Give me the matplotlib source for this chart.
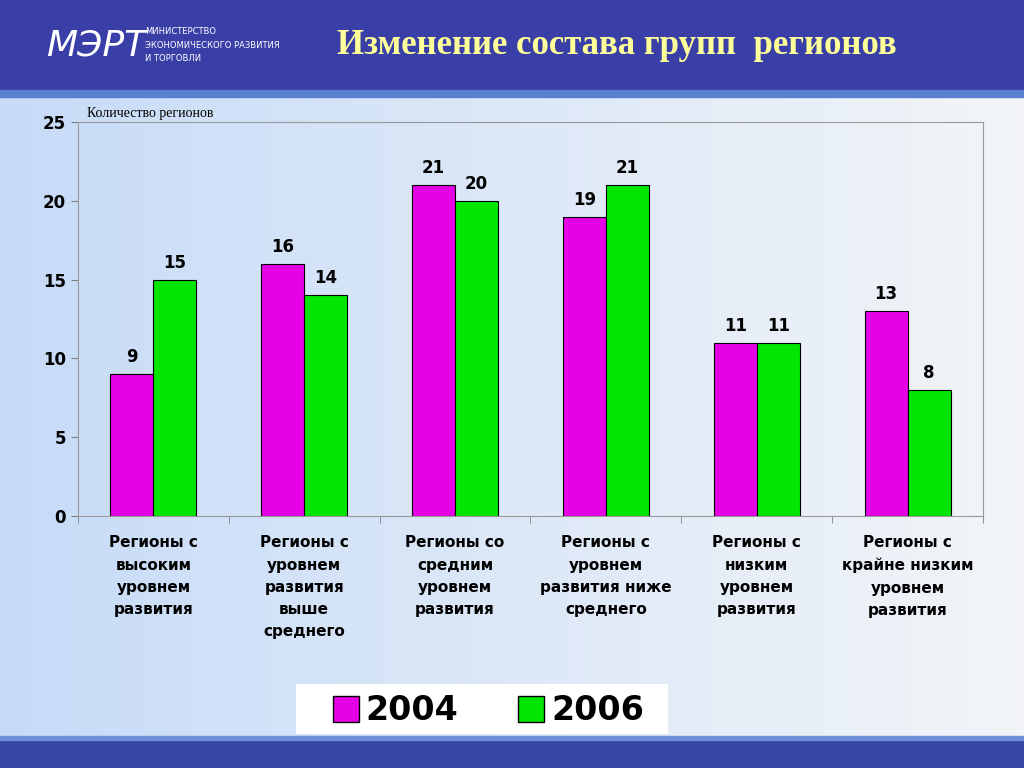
import numpy as np
import matplotlib.pyplot as plt
from matplotlib.patches import Rectangle

categories = ["Регионы с\nвысоким\nуровнем\nразвития",
              "Регионы с\nуровнем\nразвития\nвыше\nсреднего",
              "Регионы со\nсредним\nуровнем\nразвития",
              "Регионы с\nуровнем\nразвития ниже\nсреднего",
              "Регионы с\nнизким\nуровнем\nразвития",
              "Регионы с\nкрайне низким\nуровнем\nразвития"]
values_2004 = [9, 16, 21, 19, 11, 13]
values_2006 = [15, 14, 20, 21, 11, 8]
yticks = [0, 5, 10, 15, 20, 25]

fig = plt.figure(figsize=(10.24, 7.68), dpi=100)

# background
bg = fig.add_axes([0, 0, 1, 1])
bg.set_axis_off()
grad = np.linspace(0, 1, 256).reshape(1, -1)
bg.imshow(np.dstack([0.78 + 0.17 * grad, 0.86 + 0.1 * grad, 0.97 + 0 * grad]),
          extent=[0, 1, 0, 1], aspect='auto', zorder=0)
bg.set_xlim(0, 1)
bg.set_ylim(0, 1)
bg.add_patch(Rectangle((0, 1 - 90 / 768), 1, 90 / 768, color='#3a3fa8', zorder=1))
bg.add_patch(Rectangle((0, 1 - 97 / 768), 1, 7 / 768, color='#5a7fd0', zorder=1))
bg.add_patch(Rectangle((0, 0), 1, 28 / 768, color='#3a45a8', zorder=1))
bg.add_patch(Rectangle((0, 28 / 768), 1, 4 / 768, color='#6f8fd8', zorder=1))
bg.text(0.602, 1 - 45 / 768, "Изменение состава групп  регионов", color='#ffff99',
        fontsize=25, fontweight='bold', family='Liberation Serif', ha='center', va='center', zorder=2)
bg.text(0.045, 1 - 45 / 768, "МЭРТ", color='white', fontsize=26, fontstyle='italic',
        ha='left', va='center', zorder=2)
bg.text(0.142, 1 - 45 / 768, "МИНИСТЕРСТВО\nЭКОНОМИЧЕСКОГО РАЗВИТИЯ\nИ ТОРГОВЛИ", color='white',
        fontsize=6, ha='left', va='center', linespacing=1.6, zorder=2)
bg.add_patch(Rectangle((296 / 1024, 1 - 734 / 768), 372 / 1024, 50 / 768,
                       facecolor='white', edgecolor='none', zorder=2))
bg.add_patch(Rectangle((333 / 1024, 1 - 722 / 768), 26 / 1024, 26 / 768,
                       facecolor='#e600e6', edgecolor='black', zorder=3))
bg.text(365 / 1024, 1 - 710 / 768, "2004", fontsize=24, fontweight='bold', va='center', zorder=3)
bg.add_patch(Rectangle((518 / 1024, 1 - 722 / 768), 26 / 1024, 26 / 768,
                       facecolor='#00e600', edgecolor='black', zorder=3))
bg.text(551 / 1024, 1 - 710 / 768, "2006", fontsize=24, fontweight='bold', va='center', zorder=3)

ax = fig.add_axes([78 / 1024, 252 / 768, 905 / 1024, 394 / 768])
ax.set_facecolor('none')
x = np.arange(len(categories))
w = 0.285
b1 = ax.bar(x - w / 2, values_2004, w, color='#e600e6', edgecolor='black', linewidth=0.8)
b2 = ax.bar(x + w / 2, values_2006, w, color='#00e600', edgecolor='black', linewidth=0.8)
for bars in (b1, b2):
    for r in bars:
        ax.text(r.get_x() + r.get_width() / 2, r.get_height() + 0.5, str(int(r.get_height())),
                ha='center', va='bottom', fontsize=12, fontweight='bold')
ax.set_xlim(-0.5, len(categories) - 0.5)
ax.set_ylim(0, 25)
ax.set_yticks(yticks)
ax.set_yticklabels([str(t) for t in yticks], fontsize=12, fontweight='bold')
ax.set_xticks(np.arange(len(categories) + 1) - 0.5, minor=True)
ax.set_xticks(x)
ax.set_xticklabels(categories, fontsize=11, fontweight='bold', linespacing=1.6, va='top')
ax.tick_params(axis='x', which='major', length=0, pad=14)
ax.tick_params(axis='x', which='minor', length=5, color='gray')
ax.tick_params(axis='y', length=5, color='gray')
for s in ax.spines.values():
    s.set_color('#999999')
ax.text(0.01, 1.005, "Количество регионов", transform=ax.transAxes, fontsize=10,
        family='Liberation Serif', ha='left', va='bottom')

fig.savefig("out.png", dpi=100)
